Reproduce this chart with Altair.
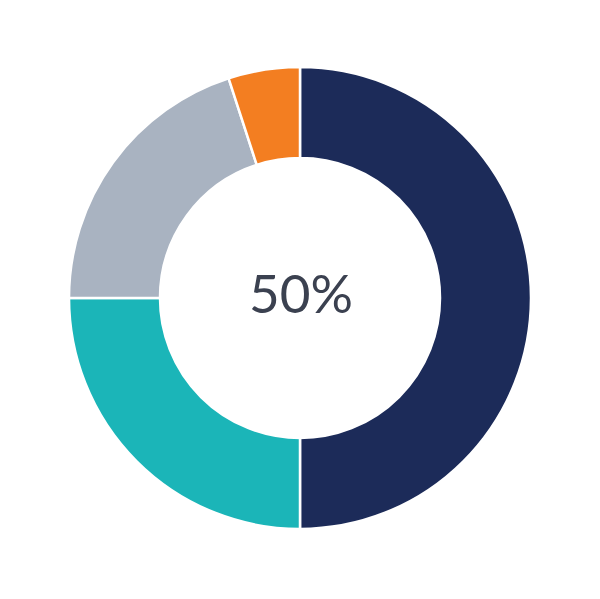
import altair as alt
import pandas as pd

categories = ["A", "B", "C", "D"]
values = [50, 25, 20, 5]
colors = ["#1c2b59", "#1bb5b8", "#a9b3c1", "#f37e21"]
center_label = ["50%"]

df = pd.DataFrame({"category": categories, "value": values, "order": list(range(len(categories)))})

arc = alt.Chart(df).mark_arc(outerRadius=231, innerRadius=140, stroke="white", strokeWidth=2.5).encode(
    theta=alt.Theta("value:Q", stack=True),
    order=alt.Order("order:Q"),
    color=alt.Color("category:N", scale=alt.Scale(domain=categories, range=colors), legend=None),
)

text = alt.Chart(pd.DataFrame({"t": center_label})).mark_text(
    font="Lato", fontSize=53, color="#3b4150", baseline="middle", align="center"
).encode(text="t:N", x=alt.value(293), y=alt.value(289))

chart = alt.layer(arc, text).properties(width=584, height=580, padding=0).configure_view(stroke=None)
chart.save("out.html", embed_options={"renderer": "svg", "actions": False})
